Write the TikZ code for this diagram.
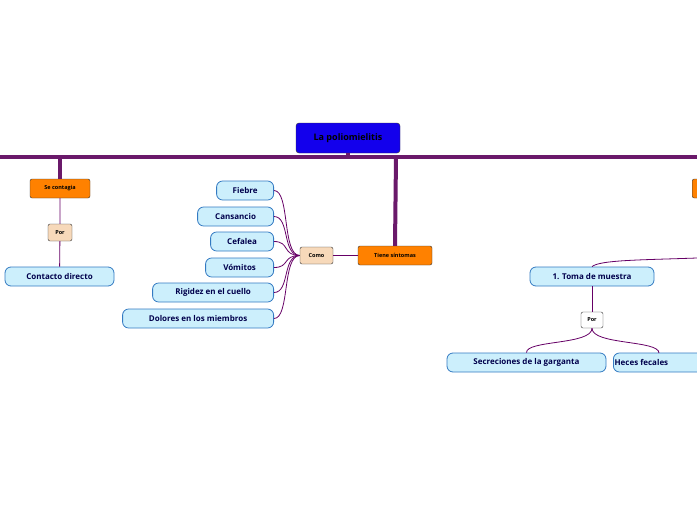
\documentclass[tikz,border=0pt]{standalone}
\usepackage{fontspec}
\setmainfont{Open Sans}
\begin{document}
\begin{tikzpicture}[x=1pt,y=-1pt,
  blue/.style={draw=blue!50!cyan!70!black!80, fill=cyan!20, rounded corners=6pt, line width=0.8pt, font=\bfseries\fontsize{8}{9}\selectfont, text=blue!30!black, inner sep=0pt, minimum height=19pt},
  org/.style={draw=black!80, fill=orange!90!red!90!yellow, rounded corners=2pt, font=\bfseries\fontsize{5.5}{6}\selectfont, inner sep=0pt, minimum height=19pt},
  tan/.style={draw=black!80, fill=brown!40!orange!30, rounded corners=2pt, font=\bfseries\fontsize{5.5}{6}\selectfont, inner sep=0pt, minimum height=17pt},
  thick/.style={draw=violet!70!black!90, line width=4pt},
  thin/.style={draw=violet!80!black, line width=0.8pt}]
\useasboundingbox (0,0) rectangle (697,520);
\begin{scope}
\clip (0,0) rectangle (697,520);
\coordinate (bl) at (0,157); \coordinate (br) at (697,157);
\draw[thick] (bl) -- (br);
\node[draw=black!80, fill=blue!85!violet, rounded corners=3pt, minimum width=104pt, minimum height=30pt, font=\bfseries\fontsize{9}{10}\selectfont, inner sep=0pt] (t) at (348,138) {La poliomielitis};
\draw[thick] (t.south) -- (348,157);
% Se contagia
\node[org, minimum width=60pt] (sc) at (60,188.5) {Se contagia};
\draw[thick] (60,157) -- (sc.north);
\node[tan, minimum width=24pt] (p1) at (60,232.5) {Por};
\node[blue, minimum width=109pt] (cd) at (59.5,276.5) {Contacto directo};
\draw[thin] (sc) -- (p1) -- (cd);
% Tiene sintomas
\node[org, minimum width=74pt] (ts) at (395,255.5) {Tiene síntomas};
\draw[thick] (396,157) -- (ts.north);
\node[tan, minimum width=33pt] (como) at (316.5,255.5) {Como};
\draw[thin] (como) -- (ts);
\foreach \n/\w/\y/\t in {f/57/190.5/Fiebre, c/76/216.5/Cansancio, ce/63/241.5/Cefalea, v/68/267.5/Vómitos, r/121/292.5/Rigidez en el cuello, d/151/318.5/Dolores en los miembros}{
  \node[blue, minimum width=\w pt, anchor=east] (\n) at (274,\y) {\t};
  \draw[thin] (\n.east) .. controls (290,\y) and (282,255.5) .. (como.west);
}
% right
\node[org, minimum width=20pt, anchor=west] (ro) at (692,188.5) {};
\node[blue, minimum width=124pt] (tm) at (592,276.5) {1. Toma de muestra};
\coordinate (re) at (697,258);
\draw[thin] (re) .. controls (640,260) and (600,260) .. (tm.north);
\node[draw=black!80, fill=white, rounded corners=2pt, font=\bfseries\fontsize{5.5}{6}\selectfont, inner sep=0pt, minimum height=16pt, minimum width=22pt] (p2) at (592,320) {Por};
\draw[thin] (tm) -- (p2);
\node[blue, minimum width=159pt] (sg) at (526.5,362.5) {Secreciones de la garganta};
\node[blue, minimum width=96pt, anchor=west] (hf) at (613,362.5) {\hspace{-40pt}Heces fecales};
\draw[thin] (p2.south) .. controls (592,345) and (526,340) .. (sg.north);
\draw[thin] (p2.south) .. controls (592,345) and (659,340) .. (659,353);
\end{scope}
\end{tikzpicture}
\end{document}
